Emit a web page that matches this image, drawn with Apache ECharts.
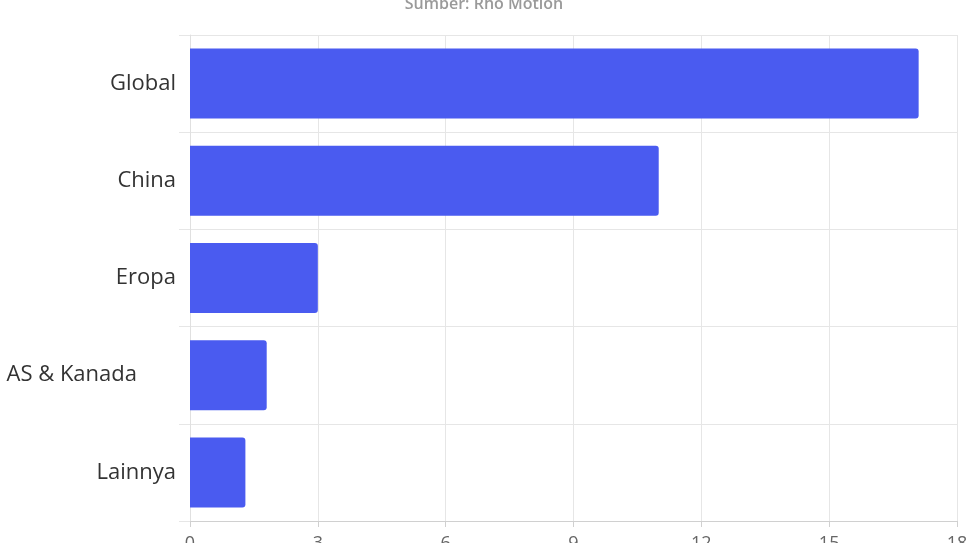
<!DOCTYPE html>
<html><head><meta charset="utf-8">
<script src="https://cdn.jsdelivr.net/npm/echarts@6/dist/echarts.min.js"></script>
<style>html,body{margin:0;padding:0;background:#fff}#c{width:968px;height:543px}</style>
</head><body><div id="c"></div>
<script>
const categories = ['Global', 'China', 'Eropa', 'AS & Kanada', 'Lainnya'];
const values = [17.1, 11.0, 3.0, 1.8, 1.3];
const xTicks = [0, 3, 6, 9, 12, 15, 18];
const sourceText = 'Sumber: Rho Motion';

const chart = echarts.init(document.getElementById('c'));
chart.setOption({
  animation: false,
  title: {
    text: sourceText, left: 'center', top: -9,
    textStyle: { color: '#9a9a9a', fontSize: 16, fontWeight: 600, fontFamily: 'Open Sans' }
  },
  grid: { left: 190, right: 11, top: 35, bottom: 22, containLabel: false, outerBoundsMode: 'none' },
  xAxis: {
    type: 'value', min: xTicks[0], max: xTicks[xTicks.length - 1], interval: 3,
    axisLine: { show: true, lineStyle: { color: '#d0d0d0' } },
    axisTick: { show: true, length: 6, lineStyle: { color: '#d0d0d0' } },
    splitLine: { show: true, lineStyle: { color: '#e6e6e6' } },
    axisLabel: { margin: 14, color: '#666', fontSize: 18, fontFamily: 'Open Sans' }
  },
  yAxis: {
    type: 'category', inverse: true,
    data: categories.map(c => c === 'AS & Kanada'
      ? { value: c, textStyle: { padding: [0, 39, 0, 0] } } : c),
    axisLine: { show: true, lineStyle: { color: '#e0e0e0' } },
    axisTick: { show: true, length: 11, lineStyle: { color: '#e6e6e6' } },
    splitLine: { show: true, lineStyle: { color: '#e6e6e6' } },
    axisLabel: { margin: 14, color: '#333', fontSize: 22, fontFamily: 'Open Sans' }
  },
  series: [{
    type: 'bar', data: values, barWidth: '72%',
    itemStyle: { color: '#4a5bf0', borderRadius: [0, 3, 3, 0] }
  }]
});
</script></body></html>
